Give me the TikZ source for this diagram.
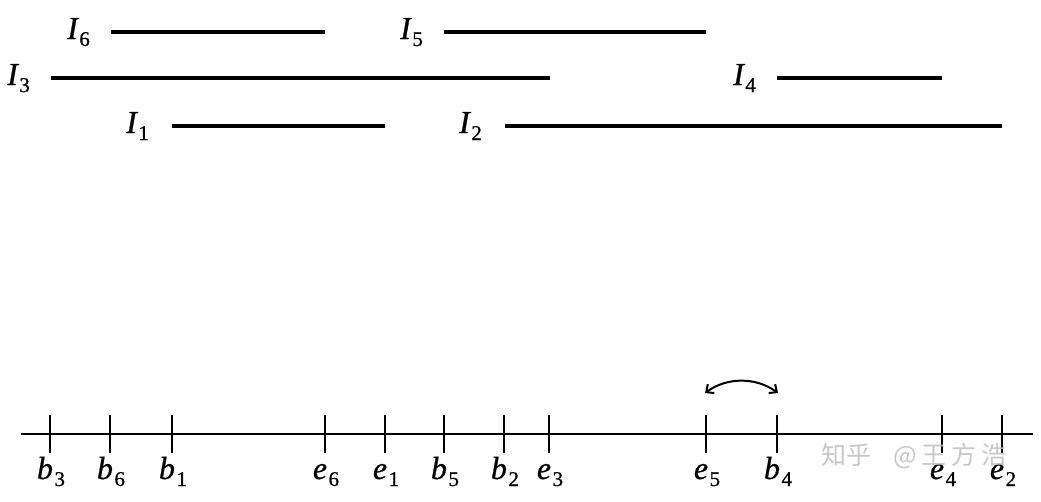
\documentclass[tikz,border=0pt]{standalone}
\usepackage{fontspec}
\setmainfont{Liberation Serif}
\newfontfamily\labfont{Liberation Serif}[UprightFeatures={FakeBold=0.8},ItalicFeatures={FakeBold=0.8}]
\newfontfamily\cjkfont{Noto Sans CJK SC}
\newfontfamily\cjkwide{Noto Sans CJK SC}[LetterSpace=20]
\usetikzlibrary{arrows.meta}
\newcommand\mylab[2]{\labfont\fontsize{32}{32}\selectfont\itshape #1\upshape\kern1.5pt\raisebox{-7pt}{\fontsize{21}{21}\selectfont #2}}
\definecolor{wm}{RGB}{190,190,190}
\tikzset{
  bar/.style={line width=4pt},
  axisline/.style={line width=1.6pt},
  tickmark/.style={line width=2.6pt},
  ilabel/.style={anchor=base west, inner sep=0pt},
  plabel/.style={anchor=base, inner sep=0pt},
  swaparrow/.style={line width=2pt, {Straight Barb[length=6pt,width=11pt]}-{Straight Barb[length=6pt,width=11pt]}},
}
\begin{document}
\begin{tikzpicture}[x=1pt,y=-1pt]
\useasboundingbox (0,0) rectangle (1041,501);
% intervals
\coordinate (s6) at (111,32);  \coordinate (f6) at (325,32);
\coordinate (s5) at (444,32);  \coordinate (f5) at (706,32);
\coordinate (s3) at (51,78);   \coordinate (f3) at (550,78);
\coordinate (s4) at (777,78);  \coordinate (f4) at (942,78);
\coordinate (s1) at (172,126); \coordinate (f1) at (385,126);
\coordinate (s2) at (505,126); \coordinate (f2) at (1002,126);
\draw[bar] (s6) -- (f6);
\draw[bar] (s5) -- (f5);
\draw[bar] (s3) -- (f3);
\draw[bar] (s4) -- (f4);
\draw[bar] (s1) -- (f1);
\draw[bar] (s2) -- (f2);
\node[ilabel] (L6) at (67,39) {\mylab{I}{6}};
\node[ilabel] (L5) at (400,39) {\mylab{I}{5}};
\node[ilabel] (L3) at (7,85) {\mylab{I}{3}};
\node[ilabel] (L4) at (733,85) {\mylab{I}{4}};
\node[ilabel] (L1) at (126,133) {\mylab{I}{1}};
\node[ilabel] (L2) at (459,133) {\mylab{I}{2}};
% axis
\coordinate (A0) at (21,434);
\coordinate (A1) at (1033,434);
\draw[axisline] (A0) -- (A1);
\foreach \n/\x/\l/\s in {tb3/50/b/3, tb6/110/b/6, tb1/172/b/1, te6/325/e/6, te1/385/e/1, tb5/444/b/5, tb2/504/b/2, te3/549/e/3, te5/706/e/5, tb4/777/b/4, te4/942/e/4, te2/1002/e/2}{
  \coordinate (\n t) at (\x,415);
  \coordinate (\n b) at (\x,453);
  \draw[tickmark] (\n t) -- (\n b);
  \node[plabel] (\n) at (\x+1,479) {\mylab{\l}{\s}};
}
% swap arrow
\coordinate (sw0) at (705,393);
\coordinate (sw1) at (778,393);
\draw[swaparrow] (sw0) .. controls (727,377) and (756,377) .. (sw1);
% watermark
\node[inner sep=0pt, anchor=west, text=wm, opacity=0.85] (wmk) at (821,456) {\fontsize{25}{25}\selectfont{\cjkfont 知乎}\hspace{22pt}{\cjkwide @王方浩}};
\end{tikzpicture}
\end{document}
